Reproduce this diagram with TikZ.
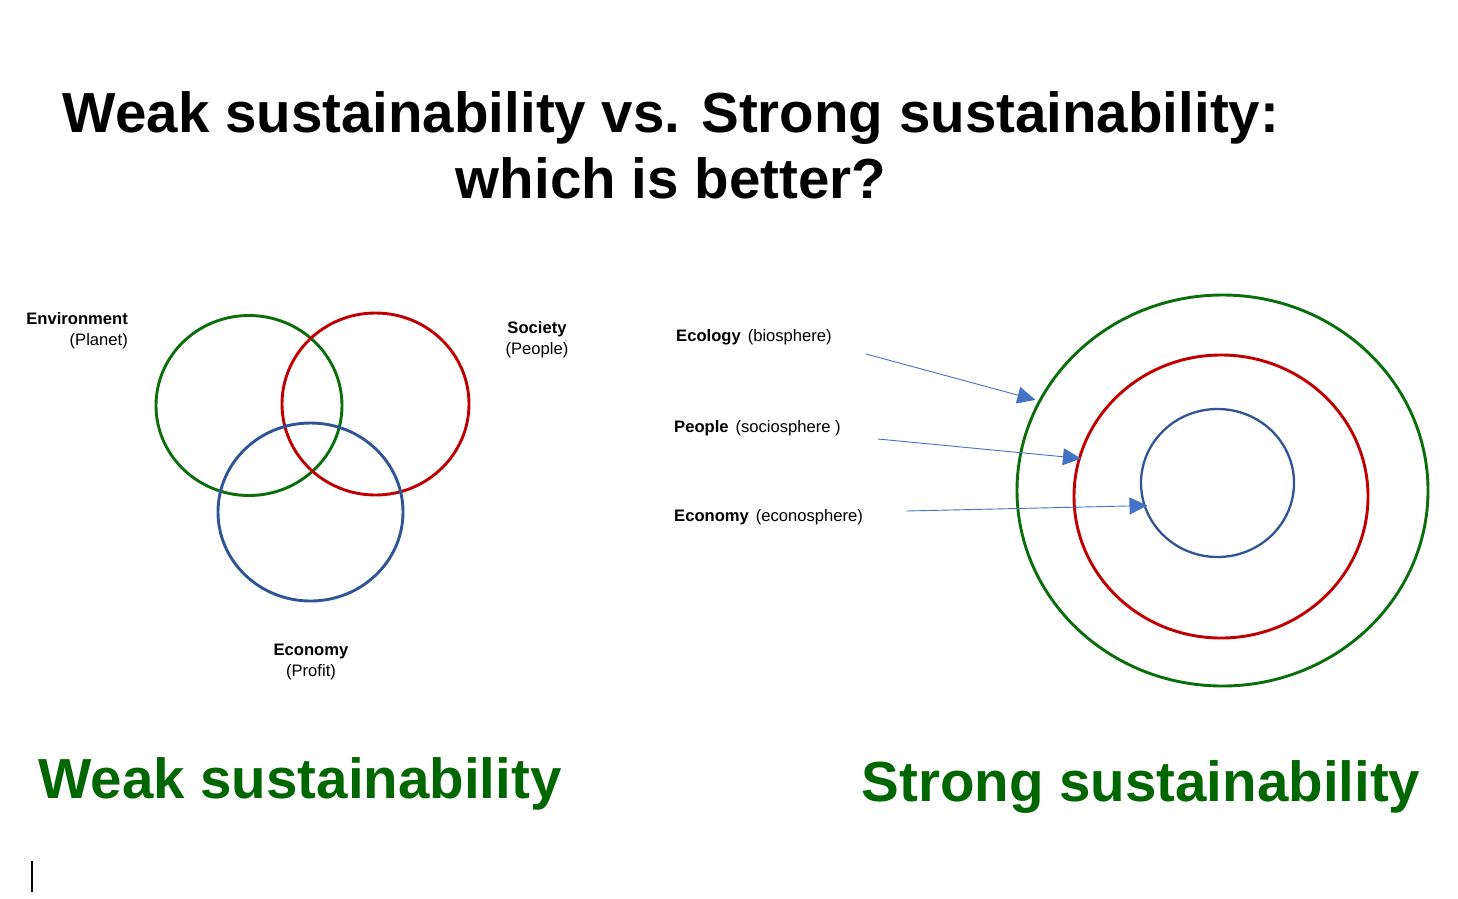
\documentclass[tikz,border=0pt]{standalone}
\usepackage{fontspec}
\setmainfont{Liberation Sans}
\usetikzlibrary{arrows.meta, shapes.geometric}
\definecolor{ringgreen}{RGB}{10,110,10}
\definecolor{ringred}{RGB}{192,0,0}
\definecolor{ringblue}{RGB}{47,85,151}
\definecolor{arrowblue}{RGB}{68,114,196}
\definecolor{headgreen}{RGB}{0,102,0}
\tikzset{
    ring/.style={ellipse,draw,inner sep=0pt,line width=2.9pt},
    venn/.style={ring,minimum width=186pt,minimum height=180pt},
    lbl/.style={font=\fontsize{16.6}{21}\selectfont,inner sep=0pt},
    ptr/.style={-{Triangle[length=18pt,width=17pt]}, draw=arrowblue, line width=0.9pt},
    headline/.style={font=\fontsize{56.5}{66}\selectfont\bfseries,inner sep=0pt,anchor=base},
    verdict/.style={font=\fontsize{56.5}{66}\selectfont\bfseries,text=headgreen,inner sep=0pt,anchor=base},
}
\begin{document}
\begin{tikzpicture}[x=1pt,y=-1pt]
    \useasboundingbox[fill=white] (0,0) rectangle (1458,898);
    % title
    \node[headline] (title1) at (671,132) {Weak sustainability vs. Strong sustainability:};
    \node[headline] (title2) at (671,198) {which is better?};
    % weak sustainability
    \node[venn,draw=ringgreen] (env) at (249,405.5) {};
    \node[venn,draw=ringred,minimum width=187pt,minimum height=182pt] (soc) at (375.5,404) {};
    \node[venn,draw=ringblue,minimum width=185pt,minimum height=178pt] (eco) at (310.5,512) {};
    \node[lbl,align=right,anchor=east] (envlbl) at (128,331) {\textbf{Environment}\\(Planet)};
    \node[lbl,align=center] (soclbl) at (537,339.5) {\textbf{Society}\\(People)};
    \node[lbl,align=center] (ecolbl) at (311,661.5) {\textbf{Economy}\\(Profit)};
    % strong sustainability
    \node[ring,draw=ringgreen,minimum width=411pt,minimum height=391pt] (bio) at (1222.5,490.5) {};
    \node[ring,draw=ringred,minimum width=294pt,minimum height=283pt] (socio) at (1221,496.5) {};
    \node[ring,draw=ringblue,line width=2.3pt,minimum width=153pt,minimum height=148pt] (econo) at (1217.5,483) {};
    \node[lbl,anchor=west] (biolbl) at (676,337) {\textbf{Ecology}\hspace{0.42em}(biosphere)};
    \node[lbl,anchor=west] (sociolbl) at (674,428) {\textbf{People}\hspace{0.42em}(sociosphere )};
    \node[lbl,anchor=west] (econolbl) at (674,517) {\textbf{Economy}\hspace{0.42em}(econosphere)};
    \coordinate (biofrom) at (866,354);
    \coordinate (sociofrom) at (878,439);
    \coordinate (econofrom) at (906,511);
    \draw[ptr,shorten >=3pt] (biofrom) -- (bio.154);
    \draw[ptr,shorten >=-3pt] (sociofrom) -- (socio.165);
    \draw[ptr,shorten >=-4pt] (econofrom) -- (econo.197);
    % bottom headings
    \node[verdict] (weak) at (300,798) {Weak sustainability};
    \node[verdict] (strong) at (1141,801) {Strong sustainability};
    % cursor mark
    \coordinate (marktop) at (32,861);
    \coordinate (markbot) at (32,892);
    \draw[line width=1.5pt] (marktop) -- (markbot);
\end{tikzpicture}
\end{document}
